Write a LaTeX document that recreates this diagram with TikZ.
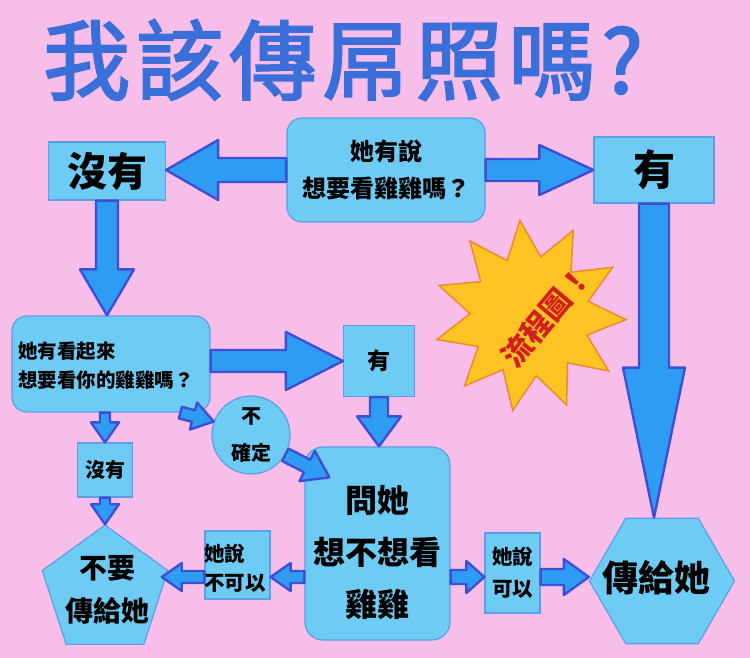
\documentclass[tikz,border=0pt]{standalone}
\usepackage{fontspec}
\setmainfont{Noto Sans CJK TC}
\newfontfamily\titlefont[FakeBold=2.5,LetterSpace=7]{Noto Sans CJK TC}
\usetikzlibrary{calc,shapes.geometric}
\definecolor{bgpink}{HTML}{F7BEEA}
\definecolor{boxfill}{HTML}{6ECBF3}
\definecolor{boxline}{HTML}{5C9FE6}
\definecolor{arrowfill}{HTML}{2E9CF2}
\definecolor{arrowline}{HTML}{3E4FD6}
\definecolor{titleblue}{HTML}{3A6FD9}
\definecolor{staryellow}{HTML}{FFC424}
\definecolor{starline}{HTML}{EE8A2A}
\definecolor{starred}{HTML}{D21F1C}
\newcommand\fsz[2]{\fontsize{#1}{#2}\selectfont}
\tikzset{
  box/.style={draw=boxline, fill=boxfill, line width=1.2pt, inner sep=0pt, text=black},
  rbox/.style={box, rounded corners=15pt},
  lbl/.style={inner sep=0pt, text=black},
  barrow/.style n args={3}{fill=arrowfill, draw=arrowline, line width=2.4pt, line join=round,
    to path={($(\tikztostart)!#1!90:(\tikztotarget)$)
      -- ($($(\tikztotarget)!#3!(\tikztostart)$)!#1!90:(\tikztotarget)$)
      -- ($($(\tikztotarget)!#3!(\tikztostart)$)!#2!90:(\tikztotarget)$)
      -- (\tikztotarget)
      -- ($($(\tikztotarget)!#3!(\tikztostart)$)!#2!-90:(\tikztotarget)$)
      -- ($($(\tikztotarget)!#3!(\tikztostart)$)!#1!-90:(\tikztotarget)$)
      -- ($(\tikztostart)!#1!-90:(\tikztotarget)$) -- cycle}}
}
\begin{document}
\begin{tikzpicture}[x=1pt,y=-1pt]
\fill[bgpink] (0,0) rectangle (750,658);
\useasboundingbox (0,0) rectangle (750,658);

% title
\node[anchor=west, inner sep=0pt, text=titleblue, font=\titlefont\fsz{87}{87}] (title) at (43,60) {我該傳屌照嗎?};

% star burst
\node[star, star points=11, star point ratio=1.6, minimum size=192pt, inner sep=0pt,
      fill=staryellow, draw=starline, line width=1.5pt, rotate=6] (burst) at (530,316) {};
\node[rotate=50, inner sep=0pt, text=starred, font=\bfseries\fsz{30}{30}] (flow) at (546,316) {流程圖！};

% boxes
\node[rbox, minimum width=198pt, minimum height=104pt, align=center, font=\bfseries\fsz{24}{37}] (q1) at (386,170) {她有說\\想要看雞雞嗎？};
\node[box, minimum width=117pt, minimum height=58pt, font=\bfseries\fsz{40}{40}] (no1) at (107,171) {沒有};
\node[box, minimum width=120pt, minimum height=66pt, font=\bfseries\fsz{42}{42}] (yes1) at (654,170) {有};
\node[rbox, minimum width=198pt, minimum height=96pt] (q2) at (111,364) {};
\node[lbl, anchor=west, align=left, font=\bfseries\fsz{19.5}{29}] (q2txt) at (18,366) {她有看起來\\想要看你的雞雞嗎？};
\node[box, minimum width=71pt, minimum height=71pt, font=\bfseries\fsz{23}{23}] (yes2) at (379,361) {有};
\node[box, circle, minimum size=78pt, align=center, font=\bfseries\fsz{20}{37}] (unsure) at (251,435) {不\\確定};
\node[box, minimum width=55pt, minimum height=54pt, font=\bfseries\fsz{20}{20}] (no2) at (105,470) {沒有};
\node[rbox, rounded corners=18pt, minimum width=145pt, minimum height=193pt] (ask) at (377.5,543.5) {};
\node[lbl, align=center, font=\bfseries\fsz{32}{52}] (asktxt) at (377.5,552) {問她\\想不想看\\雞雞};
\node[box, minimum width=65pt, minimum height=68pt] (sayno) at (237.5,565) {};
\node[lbl, anchor=west, align=left, font=\bfseries\fsz{20.5}{29}] (saynotxt) at (204,568) {她說\\不可以};
\node[box, minimum width=55pt, minimum height=80pt, align=center, font=\bfseries\fsz{20.5}{32}] (sayyes) at (512.5,573) {她說\\可以};
\node[box, regular polygon, regular polygon sides=5, minimum size=132pt] (pent) at (105,591) {};
\node[lbl, align=center, font=\bfseries\fsz{28}{43}] (penttxt) at (107,590) {不要\\傳給她};
\node[box, regular polygon, regular polygon sides=6, minimum size=145pt] (hex) at (662,581) {};
\node[lbl, font=\bfseries\fsz{36}{36}] (hextxt) at (656,578) {傳給她};

\coordinate (lvl) at (0,577);

% arrows
\draw[barrow={12pt}{30pt}{52pt}] (q1.west) to (no1.east |- q1.west);
\draw[barrow={11pt}{25pt}{54pt}] (q1.east) to (yes1.west |- q1.east);
\draw[barrow={11pt}{27pt}{46pt}] (no1.south) to (no1.south |- q2.north);
\draw[barrow={11pt}{29pt}{57pt}] (q2.east |- yes2.west) to (yes2.west);
\draw[barrow={5pt}{14pt}{20pt}] (q2.south -| no2.north) to (no2.north);
\draw[barrow={6pt}{14pt}{21pt}] (q2.-35) to (unsure.160);
\draw[barrow={7pt}{17pt}{25pt}] (unsure.-30) to ($(ask.north west)+(25,31)$);
\draw[barrow={9pt}{22pt}{30pt}] (yes2.south) to (yes2.south |- ask.north);
\draw[barrow={5pt}{14pt}{20pt}] (no2.south) to (pent.north);
\draw[barrow={6pt}{14pt}{20pt}] (ask.west |- lvl) to (sayno.east |- lvl);
\draw[barrow={6pt}{14pt}{20pt}] (sayno.west |- lvl) to (pent.east |- lvl);
\draw[barrow={7pt}{16pt}{18pt}] (ask.east |- lvl) to (sayyes.west |- lvl);
\draw[barrow={8pt}{18pt}{25pt}] (sayyes.east |- lvl) to (hex.west |- lvl);
\draw[barrow={15pt}{31pt}{150pt}] (yes1.south) to (yes1.south |- hex.north);
\end{tikzpicture}
\end{document}
